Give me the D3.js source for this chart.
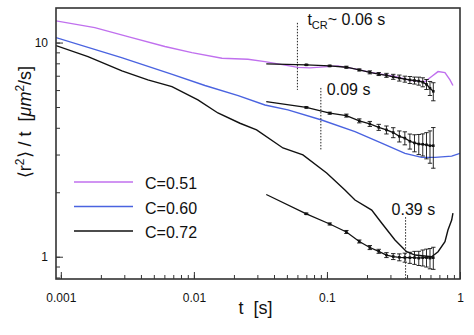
<!DOCTYPE html>
<html><head><meta charset="utf-8">
<script src="https://cdn.jsdelivr.net/npm/d3@7/dist/d3.min.js"></script>
<style>
html,body{margin:0;padding:0;background:#fff;}
svg text{font-family:"Liberation Sans",Arial,Helvetica,sans-serif;fill:#111;}
</style></head>
<body>
<svg id="c" width="474" height="335"></svg>
<script>
// ---- data ----
const seriesNames = ["C=0.51", "C=0.60", "C=0.72"];
const seriesColors = ["#c070ee", "#4a63e0", "#111111"];

const t051 = [0.00092,0.0018,0.0033,0.00605,0.00966,0.01626,0.02547,0.0342,0.0605,0.0745,0.121,0.1625,0.217,0.3245,0.4335,0.546,0.612,0.684,0.771,0.841,0.885];
const v051 = [12.63,11.75,10.61,9.58,8.98,8.45,8.36,8.15,7.66,7.62,7.78,7.54,7.24,6.94,6.64,6.57,6.94,7.32,7.24,6.69,6.30];

const t060 = [0.00092,0.00286,0.00679,0.01211,0.02153,0.0342,0.0509,0.0912,0.1625,0.2576,0.386,0.515,0.649,0.866,1.0];
const v060 = [10.55,8.51,7.12,6.30,5.65,5.11,4.85,4.35,3.84,3.39,3.04,2.91,2.91,2.95,3.04];

const t072 = [0.00092,0.0016,0.00288,0.00451,0.00684,0.01072,0.01516,0.0222,0.0296,0.0467,0.066,0.0995,0.1365,0.1625,0.217,0.2576,0.3245,0.397,0.459,0.612,0.684,0.771,0.812,0.866,0.885];
const v072 = [9.68,8.60,7.37,6.69,6.23,5.40,4.69,4.20,3.91,3.22,2.99,2.46,2.05,1.84,1.65,1.437,1.197,1.055,1.018,1.0,1.055,1.175,1.333,1.484,1.60];

// averaged curves with error bars (t = 0.035 s steps)
const tFit = [0.035,0.07,0.105,0.14,0.175,0.21,0.245,0.28,0.315,0.35,0.385,0.42,0.455,0.49,0.525,0.56,0.595,0.63];
const fit051 = [7.95,7.87,7.78,7.67,7.45,7.26,7.13,7.03,6.92,6.83,6.75,6.69,6.65,6.61,6.53,6.38,6.12,5.92];
const err051 = [0,0.042,0.059,0.083,0.080,0.117,0.115,0.151,0.186,0.22,0.218,0.252,0.25,0.284,0.316,0.343,0.461,0.573];
const fit060 = [5.30,4.98,4.68,4.56,4.31,4.17,4.02,3.91,3.80,3.65,3.58,3.46,3.40,3.36,3.35,3.33,3.30,3.30];
const err060 = [0,0.037,0.05,0.074,0.093,0.112,0.13,0.168,0.204,0.216,0.25,0.279,0.311,0.362,0.397,0.466,0.568,0.71];
const fit072 = [1.953,1.586,1.422,1.305,1.178,1.104,1.060,1.018,1.002,0.994,0.991,0.99,0.99,0.985,0.99,0.99,0.985,0.99];
const err072 = [0,0.012,0.015,0.021,0.019,0.024,0.023,0.027,0.032,0.037,0.048,0.059,0.069,0.075,0.085,0.095,0.107,0.117];

// crossover-time markers
const tcrTimes = [0.06, 0.09, 0.39];
const tcrLow = [6.01, 3.12, 0.787];
const tcrHigh = [12.36, 6.14, 1.53];

const xTickLabels = [0.001, 0.01, 0.1, 1];
const yTickLabels = [1, 10];

// ---- layout ----
const W = 474, H = 335;
const m = {l:56, r:14, t:8, b:56};
const svg = d3.select("#c");
const x = d3.scaleLog().domain([0.00092, 1.0]).range([m.l, W - m.r]);
const y = d3.scaleLog().domain([0.787, 14.5]).range([H - m.b, m.t]);

svg.append("defs").append("clipPath").attr("id","clip")
  .append("rect").attr("x", m.l).attr("y", m.t)
  .attr("width", W - m.l - m.r).attr("height", H - m.t - m.b);

const g = svg.append("g").attr("clip-path","url(#clip)");
const line = d3.line().x(d => x(d[0])).y(d => y(d[1]));

// raw curves
[[t051,v051],[t060,v060],[t072,v072]].forEach((s, i) => {
  g.append("path").datum(d3.zip(s[0], s[1]))
    .attr("d", line).attr("fill","none")
    .attr("stroke", seriesColors[i]).attr("stroke-width", 1.4);
});

// averaged curves with error bars
[[fit051,err051],[fit060,err060],[fit072,err072]].forEach(s => {
  const pts = tFit.map((t, j) => ({t, v: s[0][j], e: s[1][j]}));
  g.append("path").datum(pts.map(p => [p.t, p.v]))
    .attr("d", line).attr("fill","none").attr("stroke","#111").attr("stroke-width", 1.3);
  const eb = g.append("g").attr("stroke","#111").attr("stroke-width", 0.9);
  pts.filter(p => p.e > 0).forEach(p => {
    const cx = x(p.t), y1 = y(p.v + p.e), y2 = y(p.v - p.e);
    eb.append("line").attr("x1",cx).attr("x2",cx).attr("y1",y1).attr("y2",y2);
    eb.append("line").attr("x1",cx-2.2).attr("x2",cx+2.2).attr("y1",y1).attr("y2",y1);
    eb.append("line").attr("x1",cx-2.2).attr("x2",cx+2.2).attr("y1",y2).attr("y2",y2);
  });
  g.append("g").selectAll("rect").data(pts.slice(1)).join("rect")
    .attr("x", p => x(p.t) - 1.3).attr("y", p => y(p.v) - 1.3)
    .attr("width", 2.6).attr("height", 2.6).attr("fill","#111");
});

// dotted crossover lines
tcrTimes.forEach((t, i) => {
  svg.append("line").attr("x1", x(t)).attr("x2", x(t))
    .attr("y1", y(tcrHigh[i])).attr("y2", y(tcrLow[i]))
    .attr("stroke","#222").attr("stroke-width",1).attr("stroke-dasharray","1.5,1.5");
});

// annotations
const a1 = svg.append("text").attr("x", x(tcrTimes[0]) + 10).attr("y", 25).attr("font-size", 16);
a1.append("tspan").text("t");
a1.append("tspan").attr("font-size", 11).attr("dy", 4).text("CR");
a1.append("tspan").attr("dy", -4).text("~ 0.06 s");
svg.append("text").attr("x", x(tcrTimes[1]) + 6).attr("y", 95).attr("font-size", 16).text("0.09 s");
svg.append("text").attr("x", x(tcrTimes[2]) - 14).attr("y", 215).attr("font-size", 16).text("0.39 s");

// axes
const x0 = H - m.b, y0 = m.l;
const xAxis = d3.axisBottom(x).tickSizeOuter(0).tickSizeInner(-4).tickFormat("");
svg.append("g").attr("transform",`translate(0,${x0})`).call(xAxis)
  .call(a => { a.select(".domain").remove(); a.selectAll("line").attr("stroke","#333"); });
svg.append("g").attr("transform",`translate(0,${x0})`)
  .call(d3.axisBottom(x).tickValues(xTickLabels).tickSizeInner(-7).tickSizeOuter(0).tickPadding(14).tickFormat(d => String(d)))
  .call(a => { a.select(".domain").remove(); a.selectAll("line").attr("stroke","#333");
    a.selectAll("text").attr("font-size", 12).attr("font-family",'"Liberation Sans",Arial,sans-serif').attr("fill","#111"); });

const yAxis = d3.axisLeft(y).tickSizeOuter(0).tickSizeInner(-4).tickFormat("");
svg.append("g").attr("transform",`translate(${y0},0)`).call(yAxis)
  .call(a => { a.select(".domain").remove(); a.selectAll("line").attr("stroke","#333"); });
svg.append("g").attr("transform",`translate(${y0},0)`)
  .call(d3.axisLeft(y).tickValues(yTickLabels).tickSizeInner(-7).tickSizeOuter(0).tickPadding(8).tickFormat(d => String(d)))
  .call(a => { a.select(".domain").remove(); a.selectAll("line").attr("stroke","#333");
    a.selectAll("text").attr("font-size", 12).attr("font-family",'"Liberation Sans",Arial,sans-serif').attr("fill","#111"); });

// frame
svg.append("rect").attr("x", m.l).attr("y", m.t)
  .attr("width", W - m.l - m.r).attr("height", H - m.t - m.b)
  .attr("fill","none").attr("stroke","#333").attr("stroke-width",1.6);

// axis titles
const xt = svg.append("text").attr("x", (x(0.01)+x(0.1))/2 - 5).attr("y", 314)
  .attr("text-anchor","middle").attr("font-size", 18);
xt.append("tspan").text("t  [s]").attr("xml:space","preserve");

const yt = svg.append("text").attr("transform","translate(31,122) rotate(-90)")
  .attr("text-anchor","middle").attr("font-size", 18).style("white-space","pre");
yt.append("tspan").text("⟨r");
yt.append("tspan").attr("font-size", 12).attr("dy", -7).text("2");
yt.append("tspan").attr("dy", 7).text("⟩ / t  [");
yt.append("tspan").attr("font-style","italic").text("μm");
yt.append("tspan").attr("font-size", 12).attr("dy", -7).text("2");
yt.append("tspan").attr("dy", 7).text("/s]");

// legend
const leg = svg.append("g");
seriesNames.forEach((n, i) => {
  const ly = 182 + i * 24.5;
  leg.append("line").attr("x1", 74).attr("x2", 133).attr("y1", ly).attr("y2", ly)
    .attr("stroke", seriesColors[i]).attr("stroke-width", 1.4);
  leg.append("text").attr("x", 145).attr("y", ly + 7).attr("font-size", 16).text(n);
});
</script>
</body></html>
